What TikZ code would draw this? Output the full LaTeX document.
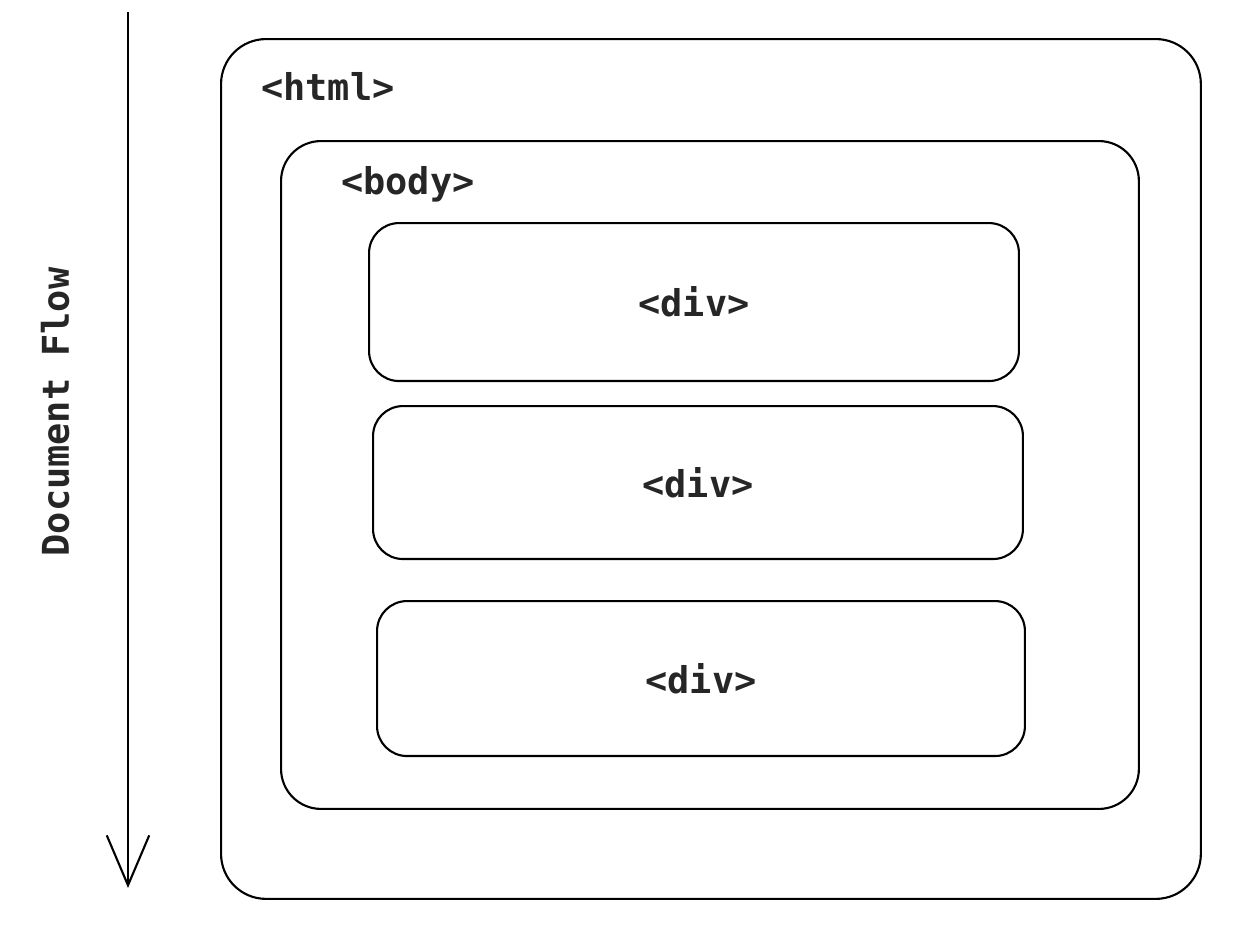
\documentclass[tikz,border=0pt]{standalone}
\usepackage{fontspec}
\setmonofont{DejaVu Sans Mono}
\usetikzlibrary{positioning,arrows.meta}

\begin{document}
\begin{tikzpicture}[x=0.02cm,y=-0.02cm,
	box/.style={draw, line width=1.2pt, rounded corners=0.6cm, anchor=north west, inner sep=0pt},
	tag/.style={font=\ttfamily\bfseries\fontsize{21}{25}\selectfont, text=black!85}]
	\useasboundingbox (0,0) rectangle (1252,934);
	\node[box, minimum width=19.6cm, minimum height=17.2cm, rounded corners=0.9cm] (html) at (220,38) {};
	\node[box, minimum width=17.16cm, minimum height=13.36cm, rounded corners=0.8cm] (body) at (280,140) {};
	\node[box, minimum width=13cm, minimum height=3.16cm] (div1) at (368,222) {};
	\node[box, minimum width=13cm, minimum height=3.06cm] (div2) at (372,405) {};
	\node[box, minimum width=12.96cm, minimum height=3.1cm] (div3) at (376,600) {};
	\node[tag, anchor=west] (htmltag) at (255,86) {<html>};
	\node[tag, anchor=west] (bodytag) at (335,184) {<body>};
	\node[tag] (divtag1) at (div1.center) {<div>};
	\node[tag] (divtag2) at (div2.center) {<div>};
	\node[tag] (divtag3) at (div3.center) {<div>};
	% flow arrow
	\coordinate (flowtop) at (128,12);
	\coordinate (flowend) at (128,888);
	\draw[line width=1.2pt, -{Straight Barb[length=1cm,width=0.85cm]}] (flowtop) -- (flowend);
	\node[tag, rotate=90] (flow) at (55,412) {Document Flow};
\end{tikzpicture}
\end{document}
